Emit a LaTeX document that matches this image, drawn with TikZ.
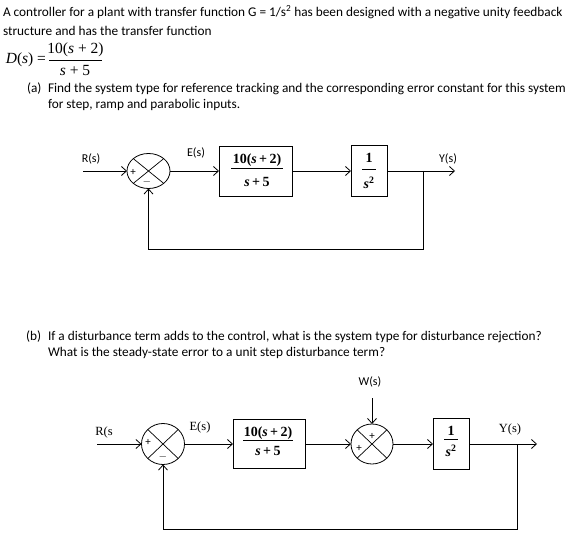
\documentclass[tikz,border=0pt]{standalone}
\usepackage{fontspec}
\setmainfont{Carlito}
\newfontfamily\tms{Liberation Serif}
\usetikzlibrary{arrows.meta,shapes.geometric}
\begin{document}
\begin{tikzpicture}[x=1pt,y=-1pt, line width=0.8pt,
 every node/.style={inner sep=0pt, outer sep=0pt},
 txt/.style={anchor=base west, font=\fontsize{13.3}{15}\selectfont},
 arr/.style={-{Straight Barb[length=5pt,width=9pt]}},
 sumj/.style={draw, ellipse, minimum width=43pt, minimum height=35pt},
 blk/.style={draw, rectangle},
 lab/.style={font=\fontsize{12}{14}\selectfont},
 slab/.style={font=\tms\fontsize{12.5}{14}\selectfont},
 sgn/.style={font=\fontsize{11}{12}\selectfont},
 frac/.style={font=\tms\bfseries\fontsize{14}{16}\selectfont},
 eq/.style={font=\tms\fontsize{15.5}{18}\selectfont},
 bar/.style={line width=0.9pt}]
\useasboundingbox (0,0) rectangle (569,534);

% ---- text ----
\node[txt] (t1) at (3,17) {A controller for a plant with transfer function G = 1/s\textsuperscript{2} has been designed with a negative unity feedback};
\node[txt] (t2) at (3,36) {structure and has the transfer function};
\node[eq, anchor=east] (ds) at (46,60) {\textit{D}(\textit{s}) =};
\node[eq] (dn) at (75.5,50) {10(\textit{s} + 2)};
\node[eq] (dd) at (75,71) {\textit{s} + 5};
\draw[line width=0.6pt] (49,60) -- (102,60);
\node[txt] (a0) at (27,93) {(a)};
\node[txt] (a1) at (48,93) {Find the system type for reference tracking and the corresponding error constant for this system};
\node[txt] (a2) at (48,109) {for step, ramp and parabolic inputs.};
\node[txt] (b0) at (26,340) {(b)};
\node[txt] (b1) at (48,340) {If a disturbance term adds to the control, what is the system type for disturbance rejection?};
\node[txt] (b2t) at (48,356) {What is the steady-state error to a unit step disturbance term?};

% ---- diagram 1 ----
\node[sumj] (s1) at (148.5,171) {};
\draw[line width=0.7pt] (s1.north east) -- (s1.south west) (s1.north west) -- (s1.south east);
\node[sgn] (p1) at (133,172) {+};
\node[sgn] (m1) at (147,182) {$-$};
\node[blk, minimum width=73pt, minimum height=50pt] (k1) at (255.5,171) {};
\node[frac] (k1n) at (257,160) {10(\textit{s}\,+\,2)};
\node[frac] (k1d) at (257,182) {\textit{s}\,+\,5};
\draw[bar] (231,168) -- (283,168);
\node[blk, minimum width=36pt, minimum height=51pt] (g1) at (369,171) {};
\node[frac] (g1n) at (369,158) {1};
\node[frac] (g1d) at (369,183) {\textit{s}\textsuperscript{2}};
\draw[bar] (362,169) -- (376,169);
\node[lab] (r1l) at (91,159) {R(s)};
\node[lab] (e1l) at (196,153) {E(s)};
\node[lab] (y1l) at (448,159) {Y(s)};
\coordinate (r1) at (83,171);
\coordinate (y1) at (455,171);
\coordinate (br1) at (423,171);
\coordinate (fb1) at (423,249);
\draw[arr] (r1) -- (s1.west);
\draw[arr] (s1.east) -- (k1.west);
\draw[arr] (k1.east) -- (g1.west);
\draw[arr] (g1.east) -- (y1);
\draw[arr] (br1) -- (fb1) -| (s1.south);

% ---- diagram 2 ----
\node[sumj, minimum height=41pt] (s3) at (163,444) {};
\draw[line width=0.7pt] (s3.north east) -- (s3.south west) (s3.north west) -- (s3.south east);
\node[sgn] (p3) at (148,442) {+};
\node[sgn] (m3) at (163,457) {$-$};
\node[blk, minimum width=72pt, minimum height=49pt] (k3) at (269,444) {};
\node[frac] (k3n) at (268,433) {10(\textit{s}\,+\,2)};
\node[frac] (k3d) at (268,451) {\textit{s}\,+\,5};
\draw[bar] (243,440) -- (293,440);
\node[sumj, minimum width=42pt, minimum height=40pt] (s4) at (372,444) {};
\draw[line width=0.7pt] (s4.north east) -- (s4.south west) (s4.north west) -- (s4.south east);
\node[sgn] (p4a) at (372,436) {+};
\node[sgn] (p4b) at (359,448) {+};
\node[blk, minimum width=36pt, minimum height=51pt] (g4) at (451,444) {};
\node[frac] (g4n) at (451,431) {1};
\node[frac] (g4d) at (451,451) {\textit{s}\textsuperscript{2}};
\draw[bar] (444,439) -- (458,439);
\node[slab] (r3l) at (104,432) {R(s};
\node[slab] (e3l) at (200,427) {E(s)};
\node[lab] (w4l) at (370,382) {W(s)};
\node[slab] (y4l) at (510,429) {Y(s)};
\coordinate (r3) at (97,444);
\coordinate (w4) at (372,398);
\coordinate (y4) at (537,444);
\coordinate (br4) at (517,444);
\coordinate (fb4) at (517,529);
\draw[arr] (r3) -- (s3.west);
\draw[arr] (s3.east) -- (k3.west);
\draw[arr] (k3.east) -- (s4.west);
\draw[arr] (w4) -- (s4.north);
\draw[arr] (s4.east) -- (g4.west);
\draw[arr] (g4.east) -- (y4);
\draw[arr] (br4) -- (fb4) -| (s3.south);
\end{tikzpicture}
\end{document}
